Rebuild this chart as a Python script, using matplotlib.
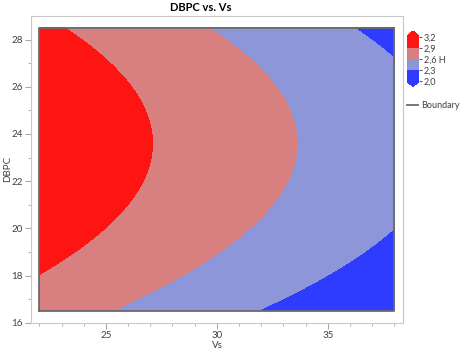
import numpy as np
import matplotlib.pyplot as plt
from matplotlib.colors import ListedColormap, BoundaryNorm
from matplotlib.lines import Line2D

# factor ranges of the design
vs_range = [22, 38]
dbpc_range = [16.5, 28.5]

# fitted response surface: H = b0 + b_vs*(Vs - vs_c) + b_dd*(DBPC - dbpc_c)^2
vs_c = 27.1
dbpc_c = 23.6
b0 = 2.9
b_vs = -0.046
b_dd = -0.0076

levels = [2.0, 2.3, 2.6, 2.9, 3.2]
level_labels = ["2,0", "2,3", "2,6 H", "2,9", "3,2"]
band_colors = ["#2E3CFF", "#8C96D8", "#D88080", "#FF1414"]

x_ticks = [25, 30, 35]
y_ticks = [16, 18, 20, 22, 24, 26, 28]

plt.rcParams['font.family'] = ['Lato', 'DejaVu Sans']

fig = plt.figure(figsize=(4.74, 3.53), dpi=100)
ax = fig.add_axes([0.0654, 0.0858, 0.785, 0.869])

vs = np.linspace(vs_range[0], vs_range[1], 300)
dbpc = np.linspace(dbpc_range[0], dbpc_range[1], 300)
X, Y = np.meshgrid(vs, dbpc)
H = b0 + b_vs * (X - vs_c) + b_dd * (Y - dbpc_c) ** 2

cmap = ListedColormap(band_colors)
cmap.set_over(band_colors[-1])
cmap.set_under(band_colors[0])
norm = BoundaryNorm(levels, cmap.N)
cf = ax.contourf(X, Y, H, levels=levels, cmap=cmap, norm=norm, extend='both')

# boundary of the design region
ax.plot([vs_range[0], vs_range[1], vs_range[1], vs_range[0], vs_range[0]],
        [dbpc_range[0], dbpc_range[0], dbpc_range[1], dbpc_range[1], dbpc_range[0]],
        color='#6B6B6B', lw=1.3, solid_joinstyle='round')

ax.set_xlim(21.62, 38.4)
ax.set_ylim(16, 29)
ax.set_xticks(x_ticks)
ax.set_yticks(y_ticks)
ax.set_xticks(np.arange(22, 39, 1), minor=True)
ax.set_yticks(np.arange(16, 29, 1), minor=True)
ax.tick_params(which='both', colors='#A8A8A8', labelcolor='#404040', labelsize=7,
               direction='out', pad=2)
ax.tick_params(which='major', length=4)
ax.tick_params(which='minor', length=2.5)
for s in ax.spines.values():
    s.set_color('#C8C8C8')
ax.set_xlabel('Vs', fontsize=7, color='#404040')
ax.set_ylabel('DBPC', fontsize=7, color='#404040')
ax.xaxis.set_label_coords(0.5, -0.06)
ax.yaxis.set_label_coords(-0.051, 0.5)
fig.text(201 / 474, 1 - 7.5 / 353, 'DBPC vs. Vs', fontsize=8, fontweight='bold',
         ha='center', va='center')

# legend bar
cax = fig.add_axes([407 / 474, 1 - 87 / 353, 12 / 474, 56 / 353])
cb = fig.colorbar(cf, cax=cax, ticks=levels, extendfrac=0.13)
cb.outline.set_visible(False)
cb.ax.set_yticklabels(level_labels)
cb.ax.tick_params(length=2, width=0.8, colors='#606060', labelcolor='#404040',
                  labelsize=6.5, pad=1.5)

fig.legend(handles=[Line2D([], [], color='#6B6B6B', lw=1.3)], labels=['Boundary'],
           loc='center left', bbox_to_anchor=(407 / 474, 1 - 106 / 353), frameon=False,
           fontsize=6.5, handlelength=1.2, handletextpad=0.4, borderaxespad=0,
           borderpad=0, labelcolor='#404040')

fig.savefig('out.png', dpi=100)
